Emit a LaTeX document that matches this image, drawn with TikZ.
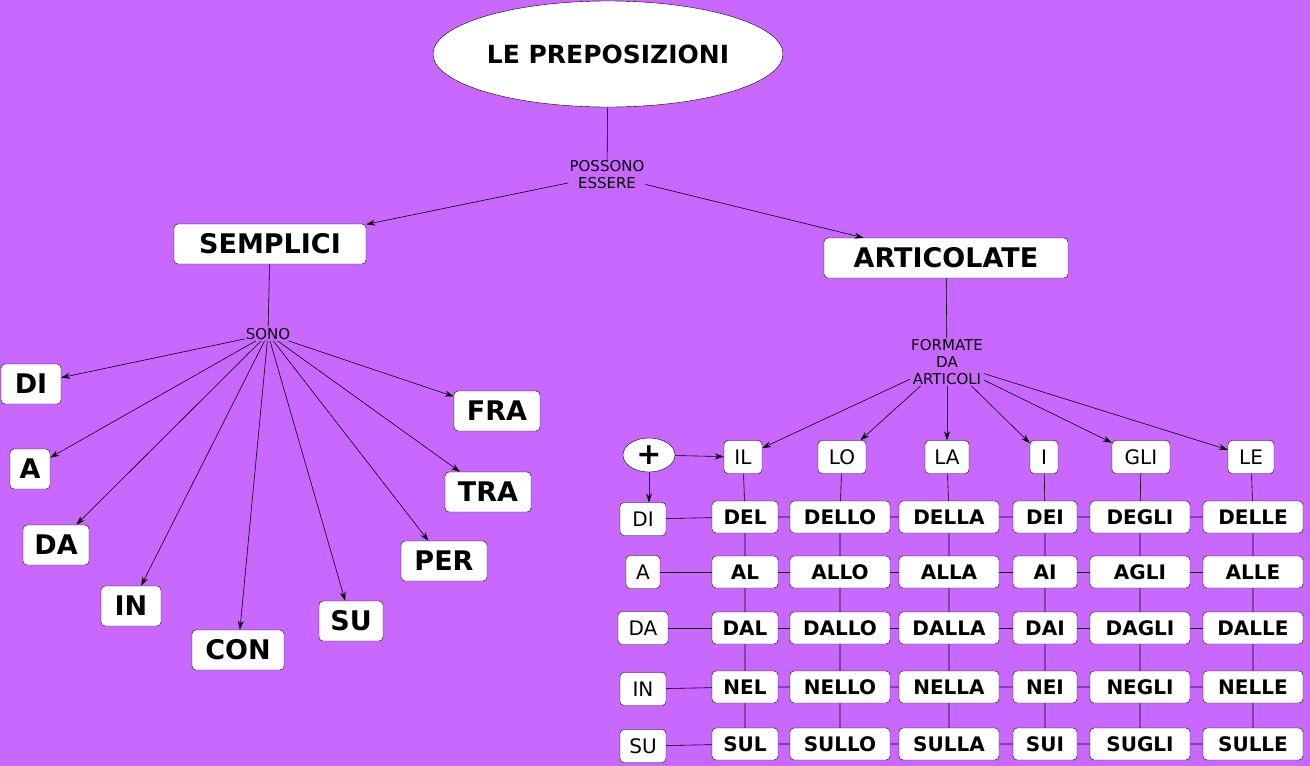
\documentclass[tikz,border=0pt]{standalone}
\usepackage{fontspec}
\setmainfont{DejaVu Sans}
\usetikzlibrary{shapes.geometric,backgrounds,arrows.meta}
\begin{document}
\begin{tikzpicture}[x=1pt,y=-1pt,
  box/.style={draw=black,fill=white,rounded corners=4pt,inner sep=0pt,minimum height=36pt,font=\fontsize{20}{22}\selectfont\bfseries},
  big/.style={box,minimum height=40pt,font=\fontsize{27}{30}\selectfont\bfseries},
  lab/.style={font=\fontsize{15}{17}\selectfont,align=center,inner sep=1pt},
  hd/.style={draw=black,fill=white,rounded corners=4pt,minimum height=33pt,font=\fontsize{20}{22}\selectfont,inner sep=0pt},
  cell/.style={box,minimum height=32pt},
  arr/.style={-{Stealth[length=9pt,width=6pt]}},
  ln/.style={draw=black,line width=0.6pt}]
\useasboundingbox (0,0) rectangle (1310,766);
\node[draw,fill=white,ellipse,inner sep=0pt,minimum width=350pt,minimum height=106pt,font=\fontsize{25}{28}\selectfont\bfseries] (t) at (608,54) {LE PREPOSIZIONI};
\node[lab] (pe) at (607,175) {POSSONO\\ESSERE};
\node[big,minimum width=192pt] (sem) at (270,244) {SEMPLICI};
\node[big,minimum width=244pt] (art) at (946,258) {ARTICOLATE};
\node[lab] (sono) at (268,334) {SONO};
\foreach \n/\x/\y/\w in {DI/31/384/60, A/30/469/40, DA/56/545/66, IN/131/606/60, CON/238/650/92, SU/351/621/64, PER/444/561/86, TRA/488/492/86, FRA/497/411/86}
  \node[big,minimum width=\w pt] (s\n) at (\x,\y) {\n};
\node[lab] (fo) at (947,362) {FORMATE\\DA\\ARTICOLI};
\node[draw,fill=white,ellipse,minimum width=52pt,minimum height=34pt,font=\fontsize{30}{30}\selectfont\bfseries,inner sep=0pt] (plus) at (649,455) {+};
\foreach \n/\t/\x/\w in {c1/IL/743/38, c2/LO/842/48, c3/LA/947/44, c4/I/1044/28, c5/GLI/1141/58, c6/LE/1251/46}
  \node[hd,minimum width=\w pt] (\n) at (\x,457) {\t};
\foreach \n/\t/\y/\w in {r1/DI/519/46, r2/A/572/34, r3/DA/628/50, r4/IN/689/46, r5/SU/746/46}
  \node[hd,minimum width=\w pt] (\n) at (643,\y) {\t};
\foreach \r/\y/\a/\b/\c/\d/\e/\f in {
  1/517/DEL/DELLO/DELLA/DEI/DEGLI/DELLE,
  2/572/AL/ALLO/ALLA/AI/AGLI/ALLE,
  3/628/DAL/DALLO/DALLA/DAI/DAGLI/DALLE,
  4/687/NEL/NELLO/NELLA/NEI/NEGLI/NELLE,
  5/744/SUL/SULLO/SULLA/SUI/SUGLI/SULLE}{
  \node[cell,minimum width=66pt] (g\r-1) at (745,\y) {\a};
  \node[cell,minimum width=100pt] (g\r-2) at (840,\y) {\b};
  \node[cell,minimum width=100pt] (g\r-3) at (949,\y) {\c};
  \node[cell,minimum width=64pt] (g\r-4) at (1045,\y) {\d};
  \node[cell,minimum width=100pt] (g\r-5) at (1140,\y) {\e};
  \node[cell,minimum width=100pt] (g\r-6) at (1253,\y) {\f};
}
\begin{pgfonlayer}{background}
\fill[fill={rgb,255:red,200;green,104;blue,255}] (0,0) rectangle (1310,766);
\draw[ln] (t) -- (pe);
\draw[ln] (sem) -- (sono);
\draw[ln] (art) -- (fo);
\foreach \r in {1,...,5}{
  \draw[ln] (r\r) -- (g\r-1) -- (g\r-2) -- (g\r-3) -- (g\r-4) -- (g\r-5) -- (g\r-6);}
\foreach \c in {1,...,6}{
  \draw[ln] (c\c) -- (g1-\c) -- (g2-\c) -- (g3-\c) -- (g4-\c) -- (g5-\c);}
\end{pgfonlayer}
\draw[ln,arr] (pe) -- (sem);
\draw[ln,arr] (pe) -- (art);
\foreach \n in {DI,A,DA,IN,CON,SU,PER,TRA,FRA} \draw[ln,arr] (sono) -- (s\n);
\foreach \c in {1,...,6} \draw[ln,arr] (fo) -- (c\c);
\draw[ln,arr] (plus) -- (c1);
\draw[ln,arr] (plus.south) -- (plus.south |- r1.north);
\end{tikzpicture}
\end{document}
